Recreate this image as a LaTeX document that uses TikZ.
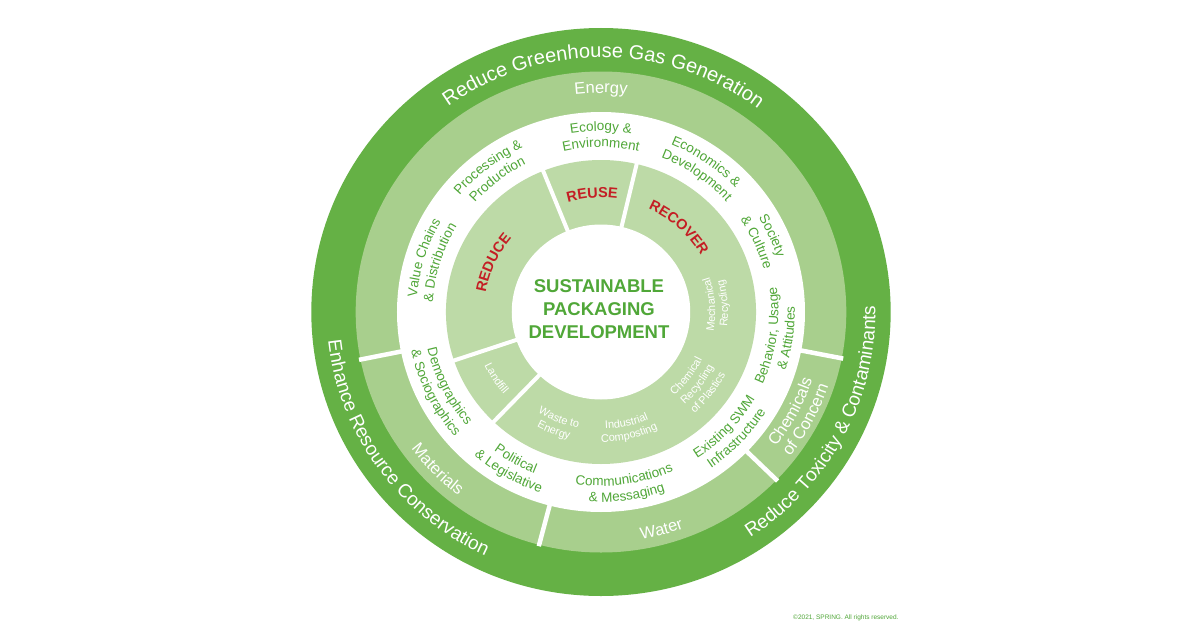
\documentclass[tikz,border=0pt]{standalone}
\usepackage{fontspec}
\setmainfont{Liberation Sans}
\usetikzlibrary{decorations.text}
\definecolor{ringdark}{RGB}{101,177,69}
\definecolor{ringlight}{RGB}{168,207,141}
\definecolor{ringpale}{RGB}{189,218,167}
\definecolor{labgreen}{RGB}{80,167,56}
\definecolor{labred}{RGB}{196,30,36}

\newcommand{\rimfont}{\fontsize{19}{19}\selectfont\color{white}}
\newcommand{\zonefont}{\fontsize{16.5}{16.5}\selectfont\color{white}}
\newcommand{\bandfont}{\fontsize{13.5}{13.5}\selectfont\color{labgreen}}
\newcommand{\rfont}{\bfseries\fontsize{14.5}{14.5}\selectfont\color{labred}}
\newcommand{\subfont}{\fontsize{11}{11}\selectfont\color{white}}

% text on an arc round the centre: clockwise (upper half) and anticlockwise (lower half)
\newcommand{\cwlabel}[4]{%
\path[decorate,decoration={text along path,text align=center,text={|#3|#4}}]
  ({#1+85}:#2) arc[start angle={#1+85},end angle={#1-85},radius=#2];}
\newcommand{\ccwlabel}[4]{%
\path[decorate,decoration={text along path,text align=center,text={|#3|#4}}]
  ({#1-85}:#2) arc[start angle={#1-85},end angle={#1+85},radius=#2];}

\begin{document}
\begin{tikzpicture}[x=1.02pt,y=1pt,
  sepline/.style={white,line width=4.5pt}]
\useasboundingbox (-601pt,-318pt) rectangle (599pt,312pt);
\fill[white] (-601pt,-318pt) rectangle (599pt,312pt);

% rings
\fill[ringdark] (0,0) circle[radius=284];
\fill[ringlight] (0,0) circle[radius=240.5];
\fill[white] (0,0) circle[radius=200];
\fill[ringpale] (0,0) circle[radius=152];
\fill[white] (0,0) circle[radius=87.5];

\foreach \a in {191.4,348.9,315.7,255.4}
  \draw[sepline] (\a:198) -- (\a:242);
\foreach \a in {111.9,76.7,198.6,226.2}
  \draw[sepline,line width=4pt] (\a:86) -- (\a:154);

% outer ring
\cwlabel{89.4}{254.5}{\fontsize{20}{20}\selectfont\color{white}}{Reduce Greenhouse Gas Generation}
\ccwlabel{215.2}{269}{\rimfont}{Enhance Resource Conservation}
\ccwlabel{-27.5}{269}{\rimfont}{Reduce Toxicity {\&} Contaminants}

% resources
\cwlabel{90}{219}{\zonefont}{Energy}
\ccwlabel{224}{231}{\zonefont}{Materials}
\ccwlabel{-74.5}{231}{\zonefont}{Water}
\ccwlabel{-27.7}{218}{\zonefont}{Chemicals}
\ccwlabel{-27.7}{235}{\zonefont}{of Concern}

% white band
\cwlabel{90}{181}{\bandfont}{Ecology {\&}}
\cwlabel{90}{165}{\bandfont}{Environment}
\cwlabel{55}{181}{\bandfont}{Economics {\&}}
\cwlabel{55}{165}{\bandfont}{Development}
\cwlabel{24}{181}{\bandfont}{Society}
\cwlabel{24}{165}{\bandfont}{{\&} Culture}
\cwlabel{128}{181}{\bandfont}{Processing {\&}}
\cwlabel{128}{165}{\bandfont}{Production}
\cwlabel{163}{181}{\bandfont}{Value Chains}
\cwlabel{163}{165}{\bandfont}{{\&} Distribution}
\ccwlabel{-8}{174}{\bandfont}{Behavior, Usage}
\ccwlabel{-8}{190}{\bandfont}{{\&} Attitudes}
\ccwlabel{-43}{174}{\bandfont}{Existing SWM}
\ccwlabel{-43}{190}{\bandfont}{Infrastructure}
\ccwlabel{-82}{174}{\bandfont}{Communications}
\ccwlabel{-82}{190}{\bandfont}{{\&} Messaging}
\ccwlabel{240}{174}{\bandfont}{Political}
\ccwlabel{240}{190}{\bandfont}{{\&} Legislative}
\ccwlabel{206}{174}{\bandfont}{Demographics}
\ccwlabel{206}{190}{\bandfont}{{\&} Sociographics}

% inner ring
\cwlabel{94.3}{114.5}{\rfont}{REUSE}
\cwlabel{155.5}{114.5}{\rfont}{REDUCE}
\cwlabel{47.3}{113}{\rfont}{RECOVER}
\ccwlabel{4}{112}{\subfont}{Mechanical}
\ccwlabel{4}{124.5}{\subfont}{Recycling}
\ccwlabel{-37}{110}{\subfont}{Chemical}
\ccwlabel{-37}{123.5}{\subfont}{Recycling}
\ccwlabel{-37}{137}{\subfont}{of Plastics}
\ccwlabel{-77}{117}{\subfont}{Industrial}
\ccwlabel{-77}{130}{\subfont}{Composting}
\ccwlabel{248.4}{118}{\subfont}{Waste to}
\ccwlabel{248.4}{131}{\subfont}{Energy}
\ccwlabel{212.4}{126}{\subfont}{Landfill}

\node[align=center,text=labgreen,font=\bfseries\fontsize{18.5}{23}\selectfont] (title) at (-2pt,2.5pt) {SUSTAINABLE\\PACKAGING\\DEVELOPMENT};
\node[anchor=east,text=labgreen,font=\fontsize{6.5}{6.5}\selectfont] (rights) at (301pt,-306pt) {©2021, SPRING. All rights reserved.};
\end{tikzpicture}
\end{document}
